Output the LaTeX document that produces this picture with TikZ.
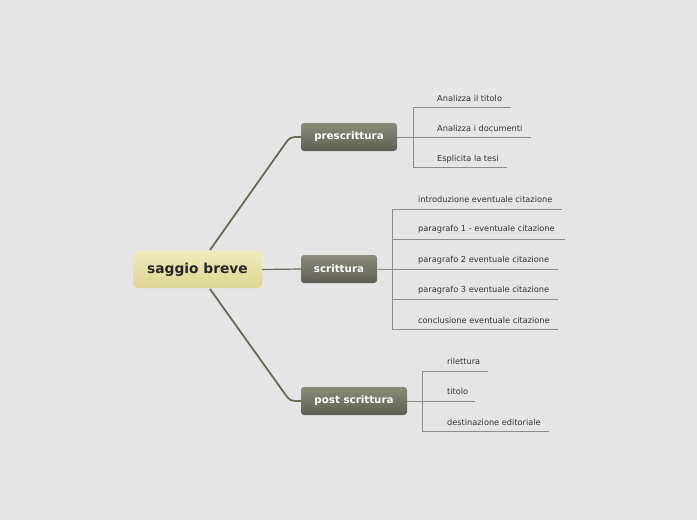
\documentclass[tikz,border=0pt]{standalone}
\usepackage{fontspec}
\setmainfont{DejaVu Sans}
\definecolor{ytop}{HTML}{F0ECBC}
\definecolor{ybot}{HTML}{DCD590}
\definecolor{gtop}{HTML}{8C8C7C}
\definecolor{gbot}{HTML}{5E5E52}
\definecolor{cn}{HTML}{6A6A58}
\begin{document}
\begin{tikzpicture}[x=1pt,y=-1pt,
 main/.style={rounded corners=4pt,top color=ytop,bottom color=ybot,draw=none,font=\bfseries\fontsize{13.8}{16}\selectfont,text=black!85,minimum width=129pt,minimum height=37pt,inner sep=0},
 sub/.style={rounded corners=3pt,top color=gtop,bottom color=gbot,draw=none,font=\bfseries\fontsize{10.3}{12}\selectfont,text=white,minimum height=28pt,inner sep=0},
 leaf/.style={font=\fontsize{8.2}{10}\selectfont,text=black!80,anchor=west,inner sep=0},
 ln/.style={draw=black!45,line width=0.6pt},
 conn/.style={draw=cn,line width=1.2pt}]
\fill[black!10] (0,0) rectangle (697,520);
\useasboundingbox (0,0) rectangle (697,520);
\node[main] (c) at (197.5,269.5) {saggio breve};
\node[sub,minimum width=96pt] (p) at (349,137) {prescrittura};
\node[sub,minimum width=76pt] (s) at (339,269) {scrittura};
\node[sub,minimum width=106pt] (ps) at (354,401) {post scrittura};
\draw[conn,line width=1.8pt] (210,250) -- (285,144) .. controls (290,137) .. (p.west);
\draw[conn] (c.east) -- (s.west);
\draw[conn,line width=1.8pt] (210,289) -- (285,394) .. controls (290,401) .. (ps.west);
% prescrittura
\coordinate (pa) at (413,137);
\draw[ln] (p.east) -- (pa);
\draw[ln] (413,107) -- (413,167);
\node[leaf] (l1) at (437,98) {Analizza il titolo};
\node[leaf] (l2) at (437,128) {Analizza i documenti};
\node[leaf] (l3) at (437,159) {Esplicita la tesi};
\draw[ln] (413,107) -- (511,107) (413,137) -- (531,137) (413,167) -- (507,167);
% scrittura
\draw[ln] (s.east) -- (392,269);
\draw[ln] (392,209) -- (392,329);
\node[leaf] (m1) at (418,199) {introduzione eventuale citazione};
\node[leaf] (m2) at (418,229) {paragrafo 1 - eventuale citazione};
\node[leaf] (m3) at (418,260) {paragrafo 2 eventuale citazione};
\node[leaf] (m4) at (418,290) {paragrafo 3 eventuale citazione};
\node[leaf] (m5) at (418,320) {conclusione eventuale citazione};
\draw[ln] (392,209) -- (562,209) (392,239) -- (565,239) (392,269) -- (558,269) (392,299) -- (558,299) (392,329) -- (558,329);
% post
\draw[ln] (ps.east) -- (422,401);
\draw[ln] (422,371) -- (422,431);
\node[leaf] (n1) at (447,361) {rilettura};
\node[leaf] (n2) at (447,391) {titolo};
\node[leaf] (n3) at (447,422) {destinazione editoriale};
\draw[ln] (422,371) -- (488,371) (422,401) -- (475,401) (422,431) -- (549,431);
\end{tikzpicture}
\end{document}
